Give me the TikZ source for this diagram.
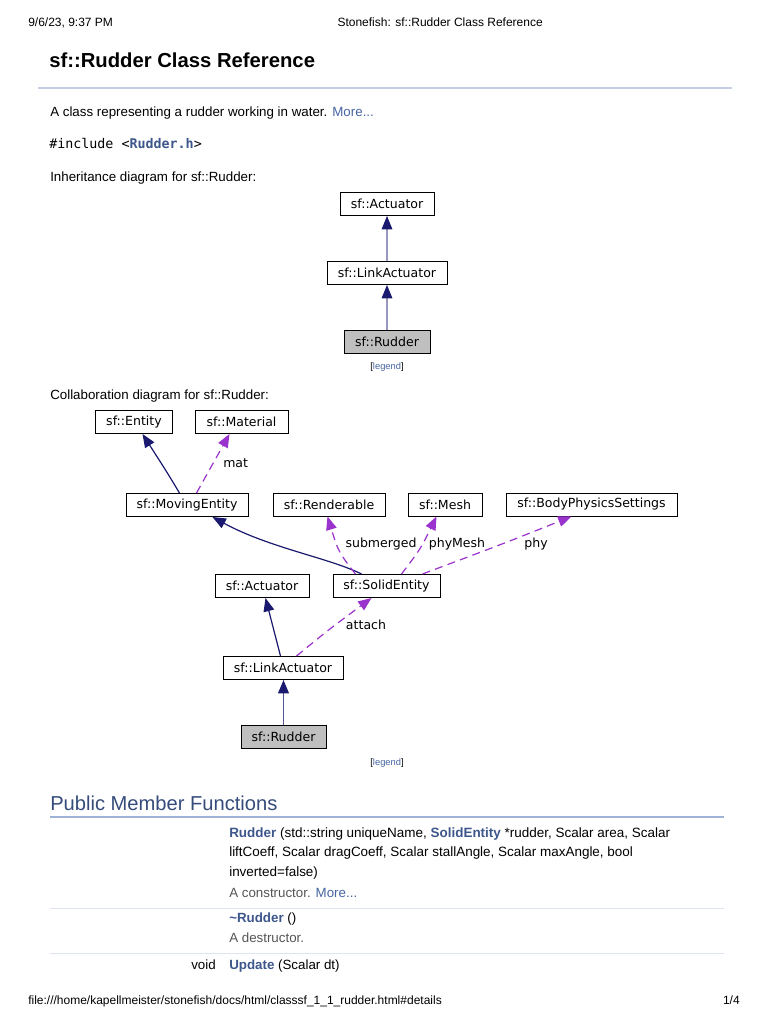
\documentclass[tikz,border=0pt]{standalone}
\usepackage{fontspec}
\setmainfont{Liberation Sans}
\setmonofont{DejaVu Sans Mono}
\newfontfamily\dv{DejaVu Sans}
\usetikzlibrary{arrows.meta,calc}
\definecolor{navyc}{HTML}{191970}
\definecolor{purp}{HTML}{9A32CD}
\definecolor{link}{HTML}{3D578C}
\definecolor{more}{HTML}{4665A2}
\definecolor{head}{HTML}{354C7B}
\definecolor{desc}{HTML}{555555}
\definecolor{hline}{HTML}{C4CFE5}
\definecolor{gline}{HTML}{A0B2D6}
\definecolor{sepl}{HTML}{DEE4F0}
\definecolor{selbox}{HTML}{BFBFBF}
\newcommand\myfs[1]{\fontsize{#1}{#1}\selectfont}
\begin{document}
\begin{tikzpicture}[x=0.75pt,y=-0.75pt,
  txt/.style={anchor=base west, inner sep=0pt, font=\myfs{10}},
  cls/.style={draw=black, line width=0.75pt, fill=white, inner sep=0pt, minimum height=17.25pt, font=\dv\myfs{9.4}},
  sel/.style={cls, fill=selbox},
  tipn/.style={-{Triangle[length=10pt,width=8pt,color=navyc]}},
  inh/.style={draw=navyc!45, line width=0.8pt, tipn},
  col/.style={draw=navyc, line width=0.9pt, tipn},
  dep/.style={draw=purp, line width=0.9pt, dash pattern=on 6pt off 4pt, -{Triangle[length=10pt,width=8pt,color=purp]}},
  lbl/.style={inner sep=0pt, font=\dv\myfs{9.4}},
  leg/.style={inner sep=0pt, font=\myfs{7}},
  hf/.style={inner sep=0pt, font=\myfs{9}}]
\fill[white] (0,0) rectangle (768,1024);
\useasboundingbox (0,0) rectangle (768,1024);

% header / footer
\node[hf, anchor=base west] (hdate) at (28,27) {9/6/23, 9:37 PM};
\node[hf, anchor=base east] (htitle) at (543,27) {Stonefish: sf::Rudder Class Reference};
\node[hf, anchor=base west] (fpath) at (28,1004) {file:///home/kapellmeister/stonefish/docs/html/classsf\_1\_1\_rudder.html\#details};
\node[hf, anchor=base east] (fpage) at (740,1004) {1/4};

% title
\node[anchor=base west, inner sep=0pt, font=\bfseries\myfs{15.2}] (title) at (49,68) {sf::Rudder Class Reference};
\draw[hline, line width=1.1pt] (38,88) -- (732,88);
\node[txt] (brief) at (50,116) {A class representing a rudder working in water. \textcolor{more}{More...}};
\node[anchor=base west, inner sep=0pt, font=\ttfamily\myfs{10}] (incl) at (49,148.5) {\#include <\textbf{\textcolor{link}{Rudder.h}}>};
\node[txt] (inhcap) at (50,181.5) {Inheritance diagram for sf::Rudder:};

% inheritance diagram
\node[cls, minimum width=70.5pt] (iact) at (387,204) {sf::Actuator};
\node[cls, minimum width=90pt] (ilink) at (387,273) {sf::LinkActuator};
\node[sel, minimum width=64.5pt] (irud) at (387,341.5) {sf::Rudder};
\draw[inh] (ilink.north) -- (iact.south);
\draw[inh] (irud.north) -- (ilink.south);
\node[leg] (leg1) at (387,367) {[\textcolor{more}{legend}]};

\node[txt] (colcap) at (50,399.5) {Collaboration diagram for sf::Rudder:};

% collaboration diagram
\node[cls, minimum width=57.75pt] (ent) at (134,422) {sf::Entity};
\node[cls, minimum width=69.75pt] (mat) at (241.5,422) {sf::Material};
\node[cls, minimum width=91.5pt] (me) at (187,505) {sf::MovingEntity};
\node[cls, minimum width=84pt] (ren) at (329,504.5) {sf::Renderable};
\node[cls, minimum width=55.5pt] (mesh) at (445,504.5) {sf::Mesh};
\node[cls, minimum width=128.25pt] (bps) at (591.5,504.5) {sf::BodyPhysicsSettings};
\node[cls, minimum width=70.5pt] (act) at (262,586) {sf::Actuator};
\node[cls, minimum width=80.25pt] (se) at (386.5,586) {sf::SolidEntity};
\node[cls, minimum width=90pt] (la) at (283,668) {sf::LinkActuator};
\node[sel, minimum width=63.75pt] (rud) at (283.5,737) {sf::Rudder};

\draw[col] ($(me.north west)+(54,0)$) .. controls ($(me.north west)+(42,-20)$) .. ($(ent.south west)+(47.5,0)$);
\draw[dep] ($(me.north west)+(71,0)$) -- ($(mat.south west)+(35,0)$);
\node[lbl, anchor=west] (lmat) at (223,463) {mat};

\draw[col] ($(se.north west)+(29,0)$) .. controls ($(se.north west)+(-3,-16)$) and ($(se.north west)+(-63,-26)$) .. ($(me.south west)+(87,0)$);
\draw[dep] ($(se.north west)+(23,0)$) .. controls ($(se.north west)+(6,-22)$) .. ($(ren.south west)+(55,0)$);
\node[lbl] (lsub) at (381,544) {submerged};
\draw[dep] ($(se.north west)+(69,0)$) .. controls ($(se.north west)+(88,-25)$) .. ($(mesh.south west)+(29,0)$);
\node[lbl] (lphm) at (457,544) {phyMesh};
\draw[dep] ($(se.north west)+(90,0)$) .. controls ($(se.north west)+(170,-30)$) .. ($(bps.south west)+(66,0)$);
\node[lbl] (lphy) at (536,544) {phy};

\draw[col] ($(la.north west)+(58,0)$) -- ($(act.south west)+(51,0)$);
\draw[dep] ($(la.north west)+(74,0)$) .. controls ($(la.north west)+(107,-27)$) .. ($(se.south west)+(39,0)$);
\node[lbl] (latt) at (366,625) {attach};
\draw[draw=navyc!75, line width=1.3pt, tipn] (rud.north) -- (rud.north |- la.south);
\node[leg] (leg2) at (387,763) {[\textcolor{more}{legend}]};

% public member functions
\node[anchor=base west, inner sep=0pt, font=\myfs{15.1}, text=head] (pmf) at (50,810) {Public Member Functions};
\draw[gline, line width=1.1pt] (50,817) -- (724,817);
\node[txt, font=\myfs{10.1}] (m1) at (229,837) {\textbf{\textcolor{link}{Rudder}} (std::string uniqueName, \textbf{\textcolor{link}{SolidEntity}} *rudder, Scalar area, Scalar};
\node[txt, font=\myfs{10.1}] (m2) at (229,856.5) {liftCoeff, Scalar dragCoeff, Scalar stallAngle, Scalar maxAngle, bool};
\node[txt, font=\myfs{10.1}] (m3) at (229,876) {inverted=false)};
\node[txt] (m4) at (229,897.5) {\textcolor{desc}{A constructor.} \textcolor{more}{More...}};
\draw[sepl, line width=0.75pt] (50,908) -- (724,908);
\node[txt] (m5) at (229,922.5) {\textbf{\textcolor{link}{\textasciitilde Rudder}} ()};
\node[txt] (m6) at (229,942.5) {\textcolor{desc}{A destructor.}};
\draw[sepl, line width=0.75pt] (50,953) -- (724,953);
\node[anchor=base east, inner sep=0pt, font=\myfs{10}] (mvoid) at (216,969.5) {void};
\node[txt] (m7) at (229,969.5) {\textbf{\textcolor{link}{Update}} (Scalar dt)};
\end{tikzpicture}
\end{document}
